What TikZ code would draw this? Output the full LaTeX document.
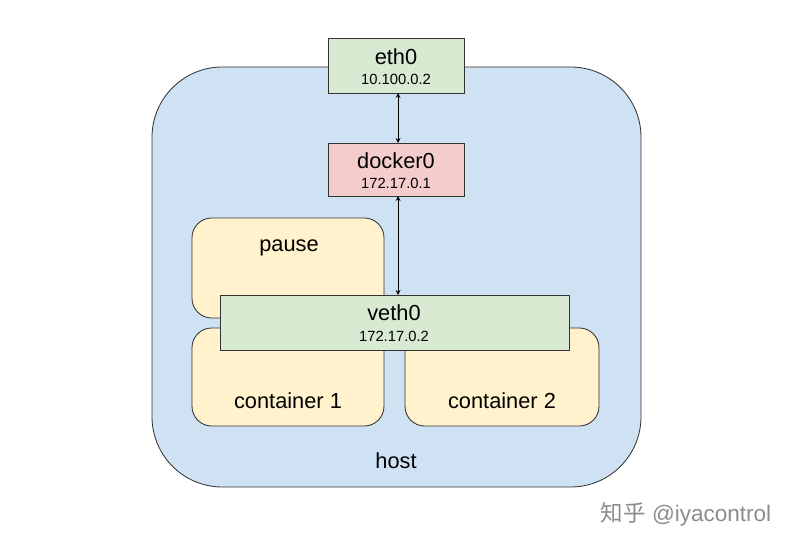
\documentclass[tikz,border=0pt]{standalone}
\usepackage{fontspec}
\setmainfont{Liberation Sans}
\newfontfamily\cjk{Noto Sans CJK SC}
\begin{document}
\begin{tikzpicture}[x=0.025cm,y=-0.025cm,
  box/.style={draw=black!80, line width=0.6pt},
  lbl/.style={inner sep=0pt, font=\fontsize{15.5}{18}\selectfont},
  sml/.style={inner sep=0pt, font=\fontsize{10.5}{12}\selectfont},
  arr/.style={<->, >=stealth, line width=0.6pt}]
\useasboundingbox (0,0) rectangle (800,550);
\fill[white] (0,0) rectangle (800,550);
\draw[box, fill={rgb,255:red,207;green,226;blue,243}, rounded corners=50] (152,67) rectangle (641,487);
\draw[box, fill={rgb,255:red,255;green,242;blue,204}, rounded corners=14] (192,218) rectangle (384,318);
\draw[box, fill={rgb,255:red,255;green,242;blue,204}, rounded corners=14] (192,328) rectangle (384,426);
\draw[box, fill={rgb,255:red,255;green,242;blue,204}, rounded corners=14] (405,328) rectangle (599,426);
\node[lbl] (pause) at (289,248) {pause};
\node[lbl] (c1) at (288,401) {container 1};
\node[lbl] (c2) at (502,401) {container 2};
\draw[box, fill={rgb,255:red,217;green,234;blue,211}] (220,295) rectangle (569,350);
\coordinate (vtop) at (398,295);
\node[lbl] at (394,313) {veth0};
\node[sml] at (394,336) {172.17.0.2};
\draw[box, fill={rgb,255:red,217;green,234;blue,211}] (328,38) rectangle (464,93);
\node[lbl] at (396,57) {eth0};
\node[sml] at (396,79) {10.100.0.2};
\coordinate (ebot) at (398,93);
\draw[box, fill={rgb,255:red,244;green,204;blue,204}] (328,143) rectangle (464,196);
\node[lbl] at (396,161) {docker0};
\node[sml] at (396,183) {172.17.0.1};
\coordinate (dtop) at (398,143);
\coordinate (dbot) at (398,196);
\draw[arr] (ebot) -- (dtop);
\draw[arr] (dbot) -- (vtop);
\node[lbl] (host) at (396,461) {host};
\node[inner sep=0pt, text=black!45, font=\fontsize{16}{18}\selectfont] (wm) at (686,514) {{\cjk 知乎} @iyacontrol};
\end{tikzpicture}
\end{document}
